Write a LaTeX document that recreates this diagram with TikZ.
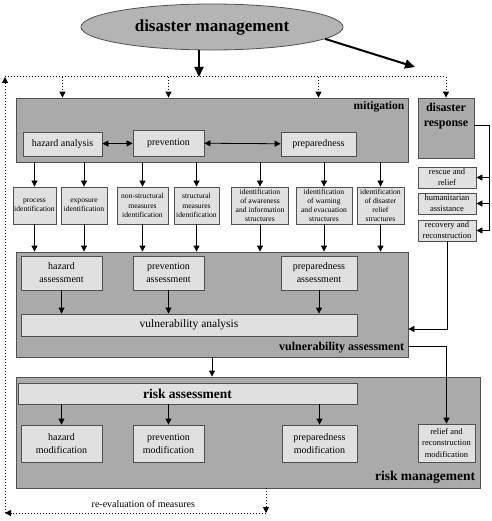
\documentclass[tikz,border=0pt]{standalone}
\usepackage{fontspec}
\setmainfont{Liberation Serif}
\usetikzlibrary{shapes.geometric,arrows.meta}
\definecolor{darkbox}{RGB}{170,170,170}
\definecolor{lightbox}{RGB}{224,224,224}
\definecolor{ellbox}{RGB}{180,180,180}
\definecolor{edge}{RGB}{80,80,80}
\tikzset{
    wh/.style 2 args={minimum width=#1pt,minimum height=#2pt},
    outer/.style={draw=edge,fill=darkbox,line width=0.8pt,inner sep=0pt},
    inbox/.style={draw=edge,fill=lightbox,line width=0.8pt,inner sep=1pt,align=center},
    tiny/.style={inbox,font=\fontsize{7.6}{9.2}\selectfont},
    small/.style={inbox,font=\fontsize{8.5}{11}\selectfont},
    mid/.style={inbox,font=\fontsize{10}{13}\selectfont},
    link/.style={-{Triangle[length=6pt,width=6pt]},line width=0.8pt},
    both/.style={{Triangle[length=6pt,width=6pt]}-{Triangle[length=6pt,width=6pt]},line width=0.8pt},
    heavy/.style={-{Triangle[length=10pt,width=9pt]},line width=2pt},
    dots/.style={dotted,line width=1pt},
    dotlink/.style={dots,-{Triangle[length=6pt,width=6pt]}}
}
\begin{document}
\begin{tikzpicture}[x=1pt,y=-1pt]
    \useasboundingbox (0,0) rectangle (491,521);
    % top
    \node[ellipse,draw=edge,fill=ellbox,line width=0.8pt,wh={262}{46},inner sep=0pt,
        font=\fontsize{17}{20}\selectfont\bfseries] (dm) at (212,27) {disaster management};
    \coordinate (tl) at (5,77);
    \coordinate (hub) at (199,77);
    \coordinate (dr) at (415,67);
    % mitigation
    \node[outer,wh={392}{64},label={[anchor=north east,inner sep=4pt,
        font=\fontsize{11.5}{14}\selectfont\bfseries]north east:mitigation}] (mit) at (212,130) {};
    \node[mid,wh={79}{24}] (ha) at (62.5,144) {hazard analysis};
    \node[mid,wh={71}{26}] (prev) at (168.5,143) {prevention};
    \node[mid,wh={75}{24}] (prep) at (318.5,144) {preparedness};
    \draw[both] (ha) -- (prev);
    \draw[both] (prev) -- (prep);
    % disaster response
    \node[outer,wh={56}{60},label={[anchor=north,inner sep=5pt,align=center,
        font=\fontsize{12}{15}\selectfont\bfseries]north:disaster\\response}] (resp) at (446,128) {};
    \node[small,wh={58}{21}] (rr) at (447,177.5) {rescue and\\relief};
    \node[small,wh={58}{21}] (hum) at (447,203.5) {humanitarian\\assistance};
    \node[small,wh={58}{21}] (rec) at (447,230.5) {recovery and\\reconstruction};
    \coordinate (rbus) at (489,125);
    \draw[line width=0.8pt] (resp.east |- rbus) -- (rbus) -- (rbus |- rec.east);
    \draw[link] (rbus |- rr.east) -- (rr.east);
    \draw[link] (rbus |- hum.east) -- (hum.east);
    \draw[link] (rbus |- rec.east) -- (rec.east);
    % identification row
    \node[tiny,wh={43}{37}] (pid) at (34.5,205.5) {process\\identification};
    \node[tiny,wh={46}{37}] (eid) at (84,205.5) {exposure\\identification};
    \node[tiny,wh={51}{37}] (nsm) at (142.5,205.5) {non-structural\\measures\\identification};
    \node[tiny,wh={45}{37}] (stm) at (196.5,205.5) {structural\\measures\\identification};
    \node[tiny,wh={57}{37}] (awi) at (260,205.5) {identification\\of awareness\\and information\\structures};
    \node[tiny,wh={56}{37}] (wei) at (324,205.5) {identification\\of warning\\and evacuation\\structures};
    \node[tiny,wh={47}{37}] (dri) at (380.5,205.5) {identification\\of disaster\\relief\\structures};
    % vulnerability assessment
    \node[outer,wh={392}{105},label={[anchor=south east,inner sep=4pt,
        font=\fontsize{12}{14}\selectfont\bfseries]south east:vulnerability assessment}] (vul) at (212,304.5) {};
    \node[mid,wh={81}{34}] (hass) at (61.5,273) {hazard\\assessment};
    \node[mid,wh={71}{34}] (pass) at (168.5,273) {prevention\\assessment};
    \node[mid,wh={76}{34}] (prass) at (319,273) {preparedness\\assessment};
    \node[inbox,wh={336}{22},font=\fontsize{11.5}{14}\selectfont] (va) at (189,325) {vulnerability analysis};
    \draw[link] (hass) -- (hass |- va.north);
    \draw[link] (pass) -- (pass |- va.north);
    \draw[link] (prass) -- (prass |- va.north);
    % arrows into and out of the row
    \draw[link] (pid.north |- mit.south) -- (pid.north);
    \draw[link] (eid.north |- mit.south) -- (eid.north);
    \draw[link] (nsm.north |- mit.south) -- (nsm.north);
    \draw[link] (stm.north |- mit.south) -- (stm.north);
    \draw[link] (awi.north |- mit.south) -- (awi.north);
    \draw[link] (wei.north |- mit.south) -- (wei.north);
    \draw[link] (dri.north |- mit.south) -- (dri.north);
    \draw[link] (pid.south) -- (pid.south |- vul.north);
    \draw[link] (eid.south) -- (eid.south |- vul.north);
    \draw[link] (nsm.south) -- (nsm.south |- vul.north);
    \draw[link] (stm.south) -- (stm.south |- vul.north);
    \draw[link] (awi.south) -- (awi.south |- vul.north);
    \draw[link] (wei.south) -- (wei.south |- vul.north);
    \draw[link] (dri.south) -- (dri.south |- vul.north);
    % risk management
    \node[outer,wh={464}{111},label={[anchor=south east,inner sep=5pt,
        font=\fontsize{13.5}{16}\selectfont\bfseries]south east:risk management}] (risk) at (248,432.5) {};
    \node[inbox,wh={339}{21},font=\fontsize{13.5}{16}\selectfont\bfseries] (ras) at (187.5,393.5) {risk assessment};
    \node[mid,wh={81}{37},font=\fontsize{10}{12.5}\selectfont] (hmod) at (61.5,443.5) {hazard\\modification};
    \node[mid,wh={71}{37},font=\fontsize{10}{12.5}\selectfont] (pmod) at (168.5,443.5) {prevention\\modification};
    \node[mid,wh={75}{37},font=\fontsize{10}{12.5}\selectfont] (prmod) at (319.5,443.5) {preparedness\\modification};
    \node[small,wh={57}{38},inner sep=0pt,font=\fontsize{8.5}{11.5}\selectfont] (rmod) at (446.5,443) {relief and\\reconstruction\\modification};
    \draw[link] (hmod.north |- ras.south) -- (hmod);
    \draw[link] (pmod.north |- ras.south) -- (pmod);
    \draw[link] (prmod.north |- ras.south) -- (prmod);
    % links between the blocks
    \draw[link] (vul.south) -- (vul.south |- risk.north);
    \draw[link] (rec.south) |- ([yshift=-24.5pt]vul.east);
    \draw[link] ([yshift=-41.5pt]vul.east) -| (rmod.north);
    \draw[heavy] (dm.south -| hub) -- (hub);
    \draw[heavy] (dm.-6) -- (dr);
    % dotted loop
    \coordinate (bl) at (5,513);
    \coordinate (re) at (266,513);
    \draw[dots] (tl) -- (resp.north |- tl);
    \draw[dotlink] (ha.north |- tl) -- (ha.north |- mit.north);
    \draw[dotlink] (prev.north |- tl) -- (prev.north |- mit.north);
    \draw[dotlink] (prep.north |- tl) -- (prep.north |- mit.north);
    \draw[dotlink] (resp.north |- tl) -- (resp.north);
    \draw[dotlink] (re |- risk.south) -- (re);
    \draw[dotlink] (re) -- node[pos=0.47,above=2pt,font=\fontsize{10}{12}\selectfont] (reval) {re-evaluation of measures} (bl);
    \draw[dotlink] (bl) -- (tl);
\end{tikzpicture}
\end{document}
